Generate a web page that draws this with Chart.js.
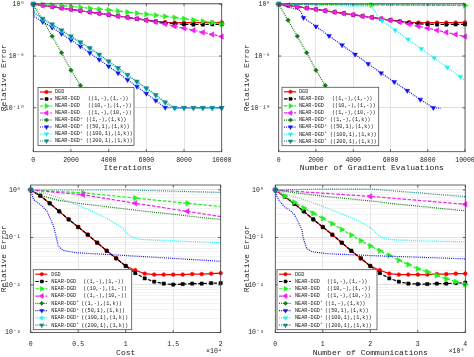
<!DOCTYPE html>
<html><head><meta charset="utf-8">
<script src="https://cdn.jsdelivr.net/npm/chart.js@4.4.0/dist/chart.umd.min.js"></script>
<style>
html,body{margin:0;padding:0;background:#fff;width:474px;height:357px;overflow:hidden}
canvas{position:absolute;display:block}
</style></head><body>
<canvas id="c1" width="237" height="178" style="left:0;top:0"></canvas>
<canvas id="c2" width="237" height="178" style="left:237px;top:0"></canvas>
<canvas id="c3" width="237" height="179" style="left:0;top:178px"></canvas>
<canvas id="c4" width="237" height="179" style="left:237px;top:178px"></canvas>
<script>
// ---------- legend text ----------
const algNames  = ['DGD','NEAR-DGD','NEAR-DGD','NEAR-DGD','NEAR-DGD','NEAR-DGD','NEAR-DGD','NEAR-DGD'];
const algPlus   = [false,false,false,false,true,true,true,true];
const algParams = ['','((1,-),(1,-))','((10,-),(1,-))','((1,-),(10,-))','((1,-),(1,k))','((50,1),(1,k))','((100,1),(1,k))','((200,1),(1,k))'];

// ---------- tick values ----------
const xTicksIter = [0,2000,4000,6000,8000,10000];
const xTicksCost = [0,5000,10000,15000,20000];
const xTicksComm = [0,100000,200000,300000,400000];
const yTicksTop = [1,1e-5,1e-10];
const yTicksBottom = [1,1e-1,1e-2,1e-3];
const yMinorBottom = [2e-3,3e-3,4e-3,5e-3,6e-3,7e-3,8e-3,9e-3,2e-2,3e-2,4e-2,5e-2,6e-2,7e-2,8e-2,9e-2,0.2,0.3,0.4,0.5,0.6,0.7,0.8,0.9];

// ---------- data: log10(relative error) ----------
// Panel 1: iterations
const iterX = [0,500,1000,1500,2000,2500,3000,3500,4000,4500,5000,5500,6000,6500,7000,7500,8000,8500,9000,9500,10000];
const it_dgd    = [0,-0.11,-0.24,-0.37,-0.5,-0.63,-0.76,-0.89,-1.02,-1.15,-1.28,-1.41,-1.54,-1.66,-1.74,-1.77,-1.78,-1.78,-1.77,-1.77,-1.76];
const it_near11 = [0,-0.11,-0.24,-0.37,-0.5,-0.63,-0.76,-0.89,-1.02,-1.15,-1.28,-1.41,-1.54,-1.67,-1.8,-1.89,-1.94,-1.96,-1.96,-1.95,-1.95];
const it_near101= [0,-0.04,-0.09,-0.15,-0.22,-0.3,-0.39,-0.48,-0.57,-0.67,-0.77,-0.87,-0.97,-1.07,-1.18,-1.29,-1.4,-1.52,-1.64,-1.77,-1.9];
const it_near110= [0,-0.11,-0.24,-0.37,-0.5,-0.63,-0.76,-0.89,-1.02,-1.15,-1.28,-1.41,-1.54,-1.72,-1.92,-2.12,-2.32,-2.52,-2.72,-2.92,-3.12];
const itX_plus1 = [0,500,1000,1500,2000,2500,3000,3500];
const it_plus1  = [0,-1.54,-3.09,-4.69,-6.37,-7.85,-9.4,-11.0];
const itX_fine  = [0,50,500,1000,1500,2000,2500,3000,3500,4000,4500,5000,5500,6000,6500,7000,7500,8000,8500,9000,9500,10000];
const it_plus50 = [0,-1.2,-1.7,-2.25,-2.85,-3.45,-4.07,-4.7,-5.35,-6.0,-6.65,-7.3,-7.95,-8.62,-9.3,-9.98,-10.0,-10.0,-10.0,-10.0,-10.0,-10.0];
const it_plus100= [0,-0.9,-1.48,-2.03,-2.6,-3.19,-3.75,-4.32,-4.95,-5.6,-6.25,-6.9,-7.55,-8.2,-8.85,-9.55,-10.02,-10.02,-10.02,-10.02,-10.02,-10.02];
const it_plus200= [0,-0.8,-1.38,-1.93,-2.5,-3.09,-3.65,-4.22,-4.85,-5.5,-6.15,-6.8,-7.45,-8.1,-8.75,-9.45,-10.0,-10.0,-10.0,-10.0,-10.0,-10.0];

// Panel 2: gradient evaluations
const gX_near101 = [0,5000,10000];
const g_near101  = [0,-0.07,-0.13];
const gX_plus50  = [0,1150,1330,2000,2700,3400,4100,4800,5500,6200,6900,7600,8300,8700];
const g_plus50   = [0,-0.6,-1.3,-2.15,-3.05,-3.95,-4.85,-5.75,-6.65,-7.5,-8.35,-9.2,-10.0,-10.05];
const gX_plus100 = [0,2500,4900,5100,5300,5550,6250,6950,7650,8350,9050,9750,10000];
const g_plus100  = [0,-0.1,-0.22,-0.5,-1.1,-1.6,-2.5,-3.4,-4.3,-5.2,-6.1,-7.0,-7.3];
const gX_plus200 = [0,5000,10000];
const g_plus200  = [0,-0.04,-0.08];

// Panel 3: cost
const costX = [0,1000,2000,3000,4000,5000,6000,7000,8000,9000,10000,11000,12000,13000,14000,15000,16000,17000,18000,19000,20000];
const c_dgd    = [0,-0.12,-0.28,-0.45,-0.62,-0.78,-0.94,-1.11,-1.28,-1.44,-1.6,-1.69,-1.76,-1.78,-1.78,-1.78,-1.78,-1.77,-1.77,-1.76,-1.75];
const c_near11 = [0,-0.12,-0.28,-0.45,-0.62,-0.78,-0.94,-1.11,-1.28,-1.44,-1.6,-1.75,-1.86,-1.93,-1.97,-1.99,-1.98,-1.97,-1.97,-1.96,-1.96];
const cX_near  = [0,5500,11000,16500,20000];
const c_near101 = [0,-0.06,-0.17,-0.28,-0.35];
const c_near110 = [0,-0.1,-0.28,-0.45,-0.56];
const cX_plus1 = [0,500,1000,2000,3000,5000,7500,10000,12500,15000,17500,20000];
const c_plus1  = [0,-0.06,-0.11,-0.17,-0.22,-0.28,-0.34,-0.4,-0.46,-0.51,-0.57,-0.62];
const cX_plus50 = [0,300,1200,1700,2000,2400,2700,2900,3400,4700,10000,20000];
const c_plus50  = [0,-0.2,-0.34,-0.44,-0.58,-0.76,-1.0,-1.18,-1.27,-1.32,-1.38,-1.5];
const cX_plus100 = [0,1500,2900,4700,6400,8200,9600,10300,10800,11500,13400,20000];
const c_plus100  = [0,-0.07,-0.16,-0.3,-0.44,-0.62,-0.79,-0.94,-1.0,-1.04,-1.06,-1.11];
const cX_plus200 = [0,10000,20000];
const c_plus200  = [0,0,-0.05];

// Panel 4: communications
const commX = [0,20000,40000,60000,80000,100000,120000,140000,160000,180000,200000,220000,240000,260000,280000,300000,320000,340000,360000,380000,400000];
const m_dgd    = [0,-0.14,-0.29,-0.45,-0.62,-0.78,-0.94,-1.11,-1.28,-1.44,-1.6,-1.69,-1.76,-1.78,-1.78,-1.78,-1.78,-1.77,-1.77,-1.76,-1.76];
const m_near11 = [0,-0.14,-0.29,-0.45,-0.62,-0.78,-0.94,-1.11,-1.28,-1.44,-1.6,-1.75,-1.86,-1.93,-1.97,-1.98,-1.98,-1.97,-1.97,-1.96,-1.95];
const m_near101 = [0,-0.13,-0.26,-0.38,-0.49,-0.6,-0.71,-0.83,-0.95,-1.07,-1.18,-1.28,-1.38,-1.48,-1.57,-1.66,-1.72,-1.8,-1.87,-1.93,-1.99];
const mX_near110 = [0,200000,400000];
const m_near110  = [0,-0.135,-0.3];
const mX_plus1 = [0,50000,100000,150000,200000,250000,300000,350000,400000];
const m_plus1  = [0,-0.07,-0.13,-0.18,-0.23,-0.29,-0.34,-0.39,-0.44];
const mX_plus50 = [0,4000,10000,20000,31000,41000,48000,56000,59000,66000,77000,108000,199000,400000];
const m_plus50  = [0,-0.15,-0.25,-0.36,-0.43,-0.53,-0.67,-0.84,-1.02,-1.23,-1.3,-1.34,-1.38,-1.45];
const mX_plus100 = [0,31000,59000,94000,129000,164000,192000,206000,217000,228000,249000,298000,400000];
const m_plus100  = [0,-0.12,-0.2,-0.32,-0.46,-0.6,-0.74,-0.84,-0.95,-1.02,-1.05,-1.07,-1.09];
const mX_plus200 = [0,100000,200000,250000,300000,350000,400000];
const m_plus200  = [0,0.02,0.02,-0.02,-0.06,-0.1,-0.14];

// ---------- styles ----------
const FONT = '"Liberation Mono","DejaVu Sans Mono",monospace';
Chart.defaults.font.family = FONT;
Chart.defaults.color = '#1a1a1a';
const STYLES = [
  {color:'#ff0000', dash:[],        pt:'circle',   rot:0,   r:1.9},
  {color:'#000000', dash:[3.5,1.6], pt:'rect',     rot:0,   r:2.3},
  {color:'#22f022', dash:[3.5,1.6], pt:'triangle', rot:90,  r:3.2},
  {color:'#f020f0', dash:[3.5,1.6], pt:'triangle', rot:-90, r:3.2},
  {color:'#127a12', dash:[1,1.1],   pt:'rectRot',  rot:0,   r:2.3},
  {color:'#1212f0', dash:[1,1.1],   pt:'triangle', rot:180, r:2.7},
  {color:'#20f0f0', dash:[1,1.1],   pt:'triangle', rot:180, r:2.7},
  {color:'#1f8080', dash:[1,1.1],   pt:'triangle', rot:180, r:2.7}
];

function isDecade(v){ const l = Math.log10(v); return Math.abs(l - Math.round(l)) < 1e-9; }
function supLabel(v){
  const e = Math.round(Math.log10(v));
  const m = {'0':'⁰','1':'¹','2':'²','3':'³','4':'⁴','5':'⁵','6':'⁶','7':'⁷','8':'⁸','9':'⁹','-':'⁻'};
  return '10' + String(e).split('').map(c => m[c]).join('');
}
function markerOn(mk, x, j){
  if (mk === 'first') return j === 0;
  if (typeof mk === 'number') return x % mk === 0;
  if (Array.isArray(mk)) return mk.includes(j);
  return true;
}

const framePlugin = {
  id: 'framePlug',
  afterDatasetsDraw(chart, args, o){
    const ctx = chart.ctx, a = chart.chartArea;
    const xs = chart.scales.x, ys = chart.scales.y;
    ctx.save();
    ctx.setLineDash([]);
    ctx.strokeStyle = '#404040'; ctx.lineWidth = 0.8;
    ctx.strokeRect(a.left, a.top, a.right - a.left, a.bottom - a.top);
    ctx.beginPath();
    o.xTicks.forEach(v => {
      const px = xs.getPixelForValue(v);
      ctx.moveTo(px, a.bottom); ctx.lineTo(px, a.bottom - 2.5);
      ctx.moveTo(px, a.top); ctx.lineTo(px, a.top + 2.5);
    });
    o.yTicks.forEach(v => {
      const py = ys.getPixelForValue(v);
      ctx.moveTo(a.left, py); ctx.lineTo(a.left + 2.5, py);
      ctx.moveTo(a.right, py); ctx.lineTo(a.right - 2.5, py);
    });
    ctx.stroke();
    if (o.xExp) {
      ctx.fillStyle = '#1a1a1a';
      ctx.font = '6.5px ' + FONT;
      ctx.textAlign = 'right'; ctx.textBaseline = 'middle';
      ctx.fillText(o.xExp, a.right + o.xExpDx, o.xExpY);
    }
    ctx.restore();
  }
};

const legendPlugin = {
  id: 'boxLegend',
  afterDatasetsDraw(chart, args, o){
    const ctx = chart.ctx;
    ctx.save();
    ctx.setLineDash([]);
    ctx.fillStyle = '#ffffff';
    ctx.fillRect(o.x, o.y, o.w, o.h);
    ctx.strokeStyle = '#505050'; ctx.lineWidth = 0.8;
    ctx.strokeRect(o.x, o.y, o.w, o.h);
    const n = chart.data.datasets.length;
    const step = (o.h - 9) / (n - 1);
    chart.data.datasets.forEach((ds, i) => {
      const st = STYLES[i];
      const cy = o.y + 4.5 + i * step;
      ctx.strokeStyle = st.color; ctx.lineWidth = 1.2;
      ctx.setLineDash(st.dash);
      ctx.beginPath(); ctx.moveTo(o.x + 2, cy); ctx.lineTo(o.x + 14, cy); ctx.stroke();
      ctx.setLineDash([]);
      ctx.fillStyle = st.color; ctx.strokeStyle = st.color; ctx.lineWidth = 0.5;
      Chart.helpers.drawPoint(ctx, {pointStyle: st.pt, rotation: st.rot, radius: st.r * 0.9, borderWidth: 0.5}, o.x + 8.5, cy);
      ctx.fillStyle = '#1a1a1a';
      ctx.textAlign = 'left'; ctx.textBaseline = 'middle';
      ctx.font = '5.2px ' + FONT;
      ctx.fillText(algNames[i], o.x + o.nameX, cy);
      const wName = ctx.measureText(algNames[i]).width;
      if (algPlus[i]) {
        ctx.font = '4px ' + FONT;
        ctx.fillText('+', o.x + o.nameX + wName + 0.4, cy - 2);
      }
      if (algParams[i]) {
        ctx.font = '5.2px ' + FONT;
        ctx.fillText(algParams[i], o.x + (algPlus[i] ? o.parX - 2 : o.parX), cy);
      }
    });
    ctx.restore();
  }
};

function buildPanel(id, cfg){
  const datasets = cfg.series.map((s, i) => {
    const st = STYLES[i];
    const xs = s[0], ys = s[1], mk = s[2];
    return {
      label: algNames[i] + (algPlus[i] ? '+' : '') + ' ' + algParams[i],
      data: xs.map((x, j) => ({x: x, y: Math.pow(10, ys[j])})),
      borderColor: st.color, backgroundColor: st.color,
      borderWidth: 1.2, borderDash: st.dash,
      pointStyle: st.pt, pointRotation: st.rot,
      pointRadius: xs.map((x, j) => markerOn(mk, x, j) ? st.r : 0),
      pointHoverRadius: 0,
      pointBackgroundColor: st.color, pointBorderColor: st.color, pointBorderWidth: 0.5,
      fill: false, tension: 0, order: 7 - i,
      clip: {left: 4, top: 4, right: 4, bottom: 0}
    };
  });
  new Chart(document.getElementById(id), {
    type: 'line',
    data: {datasets},
    options: {
      responsive: false, animation: false, devicePixelRatio: 1,
      layout: {padding: {left: 0, right: cfg.padR, top: cfg.padT, bottom: 0}},
      plugins: {
        legend: {display: false}, tooltip: {enabled: false},
        boxLegend: cfg.legend,
        framePlug: {xTicks: cfg.xTicks, yTicks: cfg.yTicks, xExp: cfg.xExp, xExpDx: cfg.xExpDx, xExpY: cfg.xExpY}
      },
      scales: {
        x: {
          type: 'linear', min: cfg.xMin, max: cfg.xMax,
          afterBuildTicks: sc => { sc.ticks = cfg.xTicks.map(v => ({value: v})); },
          afterFit: sc => { sc.height = cfg.xH; sc.paddingLeft = 0; sc.paddingRight = 0; },
          ticks: {autoSkip: false, maxRotation: 0, minRotation: 0, padding: cfg.xTickPad,
                  font: {size: 6.5}, color: '#1a1a1a', callback: v => cfg.xFmt(v)},
          grid: {color: '#dadada', lineWidth: 0.7, drawTicks: false},
          border: {display: false},
          title: {display: true, text: cfg.xTitle, font: {size: 8, lineHeight: 1}, color: '#1a1a1a', padding: cfg.xTitlePad}
        },
        y: {
          type: 'logarithmic', min: cfg.yMin, max: cfg.yMax,
          afterBuildTicks: sc => { sc.ticks = cfg.yTicks.concat(cfg.yMinor).map(v => ({value: v})); },
          afterFit: sc => { sc.width = cfg.yW; sc.paddingTop = 0; sc.paddingBottom = 0; },
          ticks: {autoSkip: false, padding: cfg.yTickPad, font: {size: 6.5}, color: '#1a1a1a',
                  callback: v => (cfg.yTicks.some(t => Math.abs(Math.log10(t) - Math.log10(v)) < 1e-9)) ? supLabel(v) : ''},
          grid: {color: c => isDecade(c.tick.value) ? '#d2d2d2' : '#ededed', lineWidth: 0.7, drawTicks: false},
          border: {display: false},
          title: {display: true, text: 'Relative Error', font: {size: 8, lineHeight: 1}, color: '#1a1a1a', padding: cfg.yTitlePad}
        }
      }
    },
    plugins: [framePlugin, legendPlugin]
  });
}

const fmtPlain = v => String(v);
const fmt1e4 = v => String(v / 10000);
const fmt1e5 = v => String(v / 100000);

buildPanel('c1', {
  series: [[iterX, it_dgd, 'all'], [iterX, it_near11, 'all'], [iterX, it_near101, 'all'], [iterX, it_near110, 'all'],
           [itX_plus1, it_plus1, 'all'], [itX_fine, it_plus50, 500], [itX_fine, it_plus100, 500], [itX_fine, it_plus200, 500]],
  xMin: 0, xMax: 10000, xTicks: xTicksIter, xFmt: fmtPlain, xTitle: 'Iterations',
  yMin: Math.pow(10, -14.24), yMax: Math.pow(10, 0.05), yTicks: yTicksTop, yMinor: [],
  padR: 15.3, padT: 3.5, yW: 33.3, xH: 26.3, xTickPad: 4.7, xTitlePad: 5.7, yTickPad: 9, yTitlePad: 0,
  legend: {x: 38, y: 87.5, w: 96, h: 58, nameX: 17, parX: 50}
});
buildPanel('c2', {
  series: [[iterX, it_dgd, 'all'], [iterX, it_near11, 'all'], [gX_near101, g_near101, 'all'], [iterX, it_near110, 'all'],
           [itX_plus1, it_plus1, 'all'], [gX_plus50, g_plus50, [0,2,3,4,5,6,7,8,9,10,11,12]],
           [gX_plus100, g_plus100, [0,5,6,7,8,9,10,11]], [gX_plus200, g_plus200, 'first']],
  xMin: 0, xMax: 10000, xTicks: xTicksIter, xFmt: fmtPlain, xTitle: 'Number of Gradient Evaluations',
  yMin: Math.pow(10, -14.24), yMax: Math.pow(10, 0.05), yTicks: yTicksTop, yMinor: [],
  padR: 9, padT: 3.5, yW: 41.7, xH: 26.3, xTickPad: 4.7, xTitlePad: 5.7, yTickPad: 8.5, yTitlePad: 6,
  legend: {x: 45, y: 87.3, w: 96.7, h: 58.4, nameX: 17, parX: 50}
});
buildPanel('c3', {
  series: [[costX, c_dgd, 'all'], [costX, c_near11, 'all'], [cX_near, c_near101, 5500], [cX_near, c_near110, 5500],
           [cX_plus1, c_plus1, 'first'], [cX_plus50, c_plus50, 'first'], [cX_plus100, c_plus100, 'first'], [cX_plus200, c_plus200, 'first']],
  xMin: 0, xMax: 20000, xTicks: xTicksCost, xFmt: fmt1e4, xTitle: 'Cost',
  yMin: 1e-3, yMax: Math.pow(10, 0.105), yTicks: yTicksBottom, yMinor: yMinorBottom,
  padR: 16.3, padT: 7, yW: 30.7, xH: 24.5, xTickPad: 8, xTitlePad: 0, yTickPad: 10, yTitlePad: 0,
  xExp: '×10⁴', xExpDx: 1, xExpY: 173.5,
  legend: {x: 33.3, y: 91.7, w: 98.4, h: 60, nameX: 18, parX: 50}
});
buildPanel('c4', {
  series: [[commX, m_dgd, 'all'], [commX, m_near11, 'all'], [commX, m_near101, 'all'], [mX_near110, m_near110, 'all'],
           [mX_plus1, m_plus1, 'first'], [mX_plus50, m_plus50, 'first'], [mX_plus100, m_plus100, 'first'], [mX_plus200, m_plus200, 'first']],
  xMin: 0, xMax: 400000, xTicks: xTicksComm, xFmt: fmt1e5, xTitle: 'Number of Communications',
  yMin: 1e-3, yMax: Math.pow(10, 0.105), yTicks: yTicksBottom, yMinor: yMinorBottom,
  padR: 8.7, padT: 7, yW: 38.3, xH: 24.5, xTickPad: 8, xTitlePad: 0, yTickPad: 11.5, yTitlePad: 6,
  xExp: '×10⁵', xExpDx: -1, xExpY: 173.5,
  legend: {x: 40, y: 91.7, w: 100, h: 60, nameX: 18, parX: 50}
});
</script>
</body></html>
